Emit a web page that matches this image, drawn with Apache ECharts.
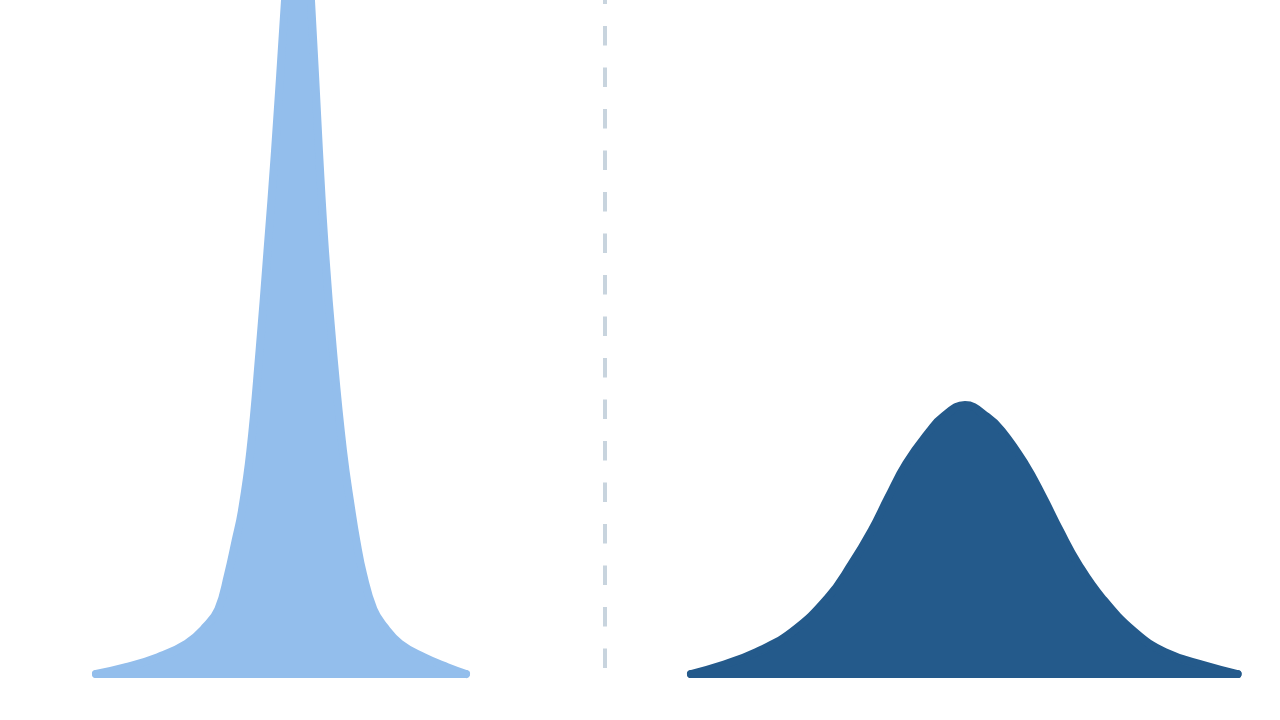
<!DOCTYPE html>
<html>
<head>
<meta charset="utf-8">
<script src="https://cdn.jsdelivr.net/npm/echarts@6/dist/echarts.min.js"></script>
<style>
html,body{margin:0;padding:0;background:#ffffff;}
#chart{width:1280px;height:720px;}
</style>
</head>
<body>
<div id="chart"></div>
<script>
// Narrow, heavy-tailed distribution (light blue), centred at 0
const lightX = [-3.009, -2.560, -2.081, -1.651, -1.362, -1.178, -1.030, -0.919, -0.825, -0.698, -0.561, -0.442, -0.329, -0.180, 0.015, 0.210, 0.329, 0.419, 0.539, 0.689, 0.816, 0.888, 0.988, 1.144, 1.302, 1.542, 1.897, 2.250, 2.530];
const lightY = [0, 0.0101, 0.0251, 0.0451, 0.0708, 0.0960, 0.1484, 0.1979, 0.2418, 0.3309, 0.4792, 0.6276, 0.776, 0.9985, 1.30, 0.9985, 0.776, 0.6276, 0.4792, 0.3309, 0.2418, 0.1979, 0.1484, 0.0960, 0.0708, 0.0451, 0.0251, 0.0101, 0];

// Wider bell-shaped distribution (dark blue), centred at 10
const darkX = [5.898, 6.347, 6.877, 7.410, 7.946, 8.302, 8.603, 8.856, 9.120, 9.476, 9.668, 10, 10.332, 10.549, 10.894, 11.167, 11.419, 11.695, 12.051, 12.537, 12.994, 13.598, 14.081];
const darkY = [0, 0.0125, 0.0326, 0.0626, 0.1129, 0.1632, 0.2131, 0.2629, 0.3122, 0.361, 0.3815, 0.3991, 0.3815, 0.361, 0.3122, 0.2629, 0.2131, 0.1632, 0.1129, 0.0626, 0.0326, 0.0125, 0];

// Dashed divider between the two panels
const dividerX = 4.611;
const dividerY = [0.0089, 1.0];

const zip = (xs, ys) => xs.map((x, i) => [x, ys[i]]);

const LIGHT = '#93BEEC';
const DARK = '#245A8B';

const chart = echarts.init(document.getElementById('chart'), null, {renderer: 'canvas'});
chart.setOption({
  backgroundColor: '#ffffff',
  animation: false,
  grid: {left: 0, right: 0, top: 0, bottom: 0},
  xAxis: {type: 'value', min: -4.446, max: 14.716, show: false, splitLine: {show: false}},
  yAxis: {type: 'value', min: -0.0682, max: 1.0, show: false, splitLine: {show: false}},
  series: [
    {
      type: 'line',
      data: dividerY.map(y => [dividerX, y]),
      showSymbol: false,
      silent: true,
      lineStyle: {color: '#C8D4DE', width: 4, type: [19.5, 22], cap: 'butt'},
      z: 1
    },
    {
      type: 'line',
      data: zip(lightX, lightY),
      smooth: 0.45,
      showSymbol: false,
      silent: true,
      lineStyle: {color: LIGHT, width: 8, cap: 'round', join: 'round'},
      areaStyle: {color: LIGHT, opacity: 1},
      z: 2
    },
    {
      type: 'line',
      data: [[lightX[0], 0], [lightX[lightX.length - 1], 0]],
      showSymbol: false,
      silent: true,
      lineStyle: {color: LIGHT, width: 8, cap: 'round'},
      z: 2
    },
    {
      type: 'line',
      data: zip(darkX, darkY),
      smooth: 0.45,
      showSymbol: false,
      silent: true,
      lineStyle: {color: DARK, width: 8, cap: 'round', join: 'round'},
      areaStyle: {color: DARK, opacity: 1},
      z: 2
    },
    {
      type: 'line',
      data: [[darkX[0], 0], [darkX[darkX.length - 1], 0]],
      showSymbol: false,
      silent: true,
      lineStyle: {color: DARK, width: 8, cap: 'round'},
      z: 2
    }
  ]
});
</script>
</body>
</html>
